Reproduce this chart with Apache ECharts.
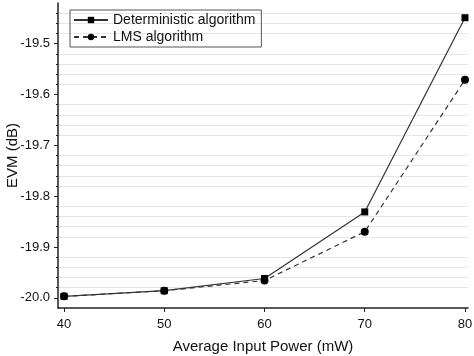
<!DOCTYPE html>
<html>
<head>
<meta charset="utf-8">
<script src="https://cdn.jsdelivr.net/npm/echarts@6/dist/echarts.min.js"></script>
<style>
    html, body { margin: 0; padding: 0; background: #ffffff; }
    #chart { width: 474px; height: 356px; }
</style>
</head>
<body>
<div id="chart"></div>
<script>
    // values
    var powers = [40, 50, 60, 70, 80];
    var deterministic = [-19.997, -19.986, -19.962, -19.831, -19.449];
    var lms = [-19.997, -19.986, -19.966, -19.870, -19.571];
    var xTicks = [40, 50, 60, 70, 80];
    var yTicks = [-20.0, -19.9, -19.8, -19.7, -19.6, -19.5];

    var chart = echarts.init(document.getElementById('chart'));
    var font = 'Liberation Sans, Arial, sans-serif';

    var options = {
        animation: false,
        textStyle: { fontFamily: font },
        grid: { left: 58, right: 6, top: 3, bottom: 48, outerBoundsMode: 'none', containLabel: false },
        legend: {
            orient: 'vertical',
            left: 70,
            top: 10,
            padding: [3, 6, 3, 3],
            itemGap: 3,
            itemWidth: 34,
            itemHeight: 8,
            borderColor: '#555',
            borderWidth: 1,
            textStyle: { fontSize: 14, color: '#111', fontFamily: font },
            data: ['Deterministic algorithm', 'LMS algorithm']
        },
        xAxis: {
            type: 'value',
            min: 39.4,
            max: 80.3,
            interval: 10,
            name: 'Average Input Power (mW)',
            nameLocation: 'middle',
            nameGap: 31,
            nameMoveOverlap: false,
            nameTextStyle: { fontSize: 15, color: '#111' },
            axisLine: { onZero: false, lineStyle: { color: '#222', width: 1.5 } },
            axisTick: { show: true, length: 4, lineStyle: { color: '#222' },
                customValues: xTicks },
            axisLabel: { fontSize: 13, color: '#111', margin: 10,
                customValues: xTicks },
            splitLine: { show: false }
        },
        yAxis: {
            type: 'value',
            min: -20.02,
            max: -19.42,
            name: 'EVM (dB)',
            nameLocation: 'middle',
            nameGap: 38,
            nameMoveOverlap: false,
            nameTextStyle: { fontSize: 15, color: '#111' },
            axisLine: { show: true, lineStyle: { color: '#222', width: 1.5 } },
            axisTick: { show: true, length: 4, lineStyle: { color: '#222' },
                customValues: yTicks },
            minorTick: { show: true, splitNumber: 5, length: 2, lineStyle: { color: '#222' } },
            axisLabel: { fontSize: 13, color: '#111', margin: 8,
                customValues: yTicks,
                formatter: function (v) { return v.toFixed(1); } },
            splitLine: { show: false },
            minorSplitLine: { show: true, lineStyle: { color: '#e6e6e6', width: 1 } }
        },
        series: [
            {
                name: 'Deterministic algorithm',
                type: 'line',
                data: powers.map(function (p, i) { return [p, deterministic[i]]; }),
                symbol: 'rect',
                symbolSize: 7,
                itemStyle: { color: '#000' },
                lineStyle: { color: '#333', width: 1.2, type: 'solid' }
            },
            {
                name: 'LMS algorithm',
                type: 'line',
                data: powers.map(function (p, i) { return [p, lms[i]]; }),
                symbol: 'circle',
                symbolSize: 8,
                itemStyle: { color: '#000' },
                lineStyle: { color: '#333', width: 1.2, type: [5, 4] }
            }
        ]
    };

    chart.setOption(options);
</script>
</body>
</html>
